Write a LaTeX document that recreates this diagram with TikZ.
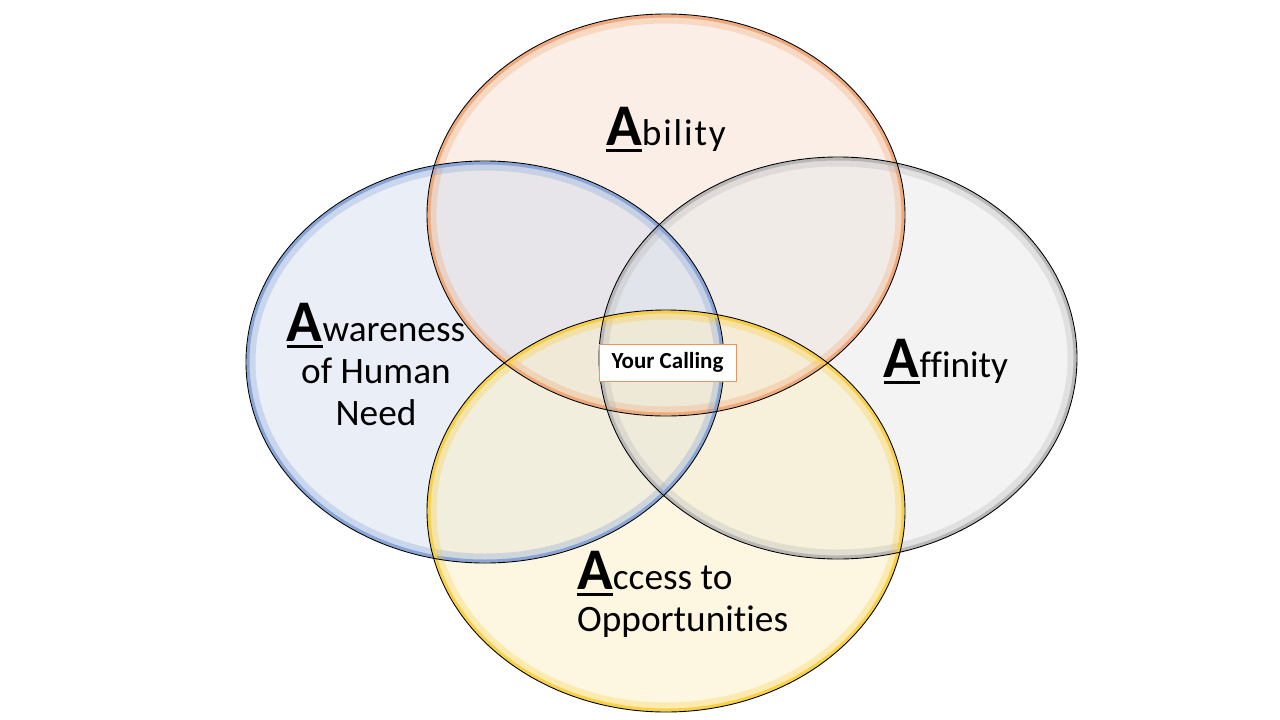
\documentclass[tikz,border=0pt]{standalone}
\usepackage{fontspec}
\setmainfont{Carlito}[Ligatures={NoCommon,NoRequired,NoContextual}]
\usetikzlibrary{shapes.geometric}
\definecolor{orfill}{RGB}{247,221,205}
\definecolor{blfill}{RGB}{211,221,239}
\definecolor{grfill}{RGB}{232,232,232}
\definecolor{yefill}{RGB}{251,238,196}
\definecolor{orglow}{RGB}{240,165,115}
\definecolor{blglow}{RGB}{130,160,215}
\definecolor{grglow}{RGB}{180,180,180}
\definecolor{yeglow}{RGB}{250,205,60}
\definecolor{boxedge}{RGB}{230,150,100}
\newcommand\capA[1]{{\fontsize{59}{59}\selectfont\bfseries\setbox0\hbox{#1}\rlap{\rule[-7pt]{\wd0}{3pt}}\box0}}
\begin{document}
\begin{tikzpicture}[x=1pt,y=-1pt,
  circ/.style={ellipse, inner sep=0pt, outer sep=0pt, minimum width=478pt, minimum height=402pt, fill opacity=0.5},
  rim/.style={draw=black, line width=0.9pt},
  lbl/.style={inner sep=0pt, font=\fontsize{37.3}{42}\selectfont}]
\useasboundingbox (0,0) rectangle (1280,720);
% fills
\node[circ, fill=orfill] (ability) at (666,215) {};
\node[circ, fill=grfill] (affinity) at (838,358) {};
\node[circ, fill=blfill] (awareness) at (485,362) {};
\node[circ, fill=yefill] (access) at (666,511) {};
% inner glows
\foreach \n/\c in {ability/orglow, affinity/grglow, awareness/blglow, access/yeglow}{
  \draw[\c, line width=9pt, opacity=0.3] (\n.center) ellipse [x radius=234pt, y radius=196pt];
  \draw[\c, line width=3pt, opacity=0.9] (\n.center) ellipse [x radius=237pt, y radius=199pt];
}
% outlines
\foreach \n in {ability, affinity, awareness, access}{
  \draw[rim] (\n.center) ellipse [x radius=239pt, y radius=201pt];
}
% labels
\node[lbl, anchor=base] (tability) at (666,145) {\capA{A}{\addfontfeature{LetterSpace=5}bility}};
\node[lbl, anchor=base] (taffinity) at (946,377) {\capA{A}ffinity};
\node[lbl, align=center, anchor=center] (tawareness) at (376,364) {\capA{A}wareness\\of Human\\Need};
\node[lbl, align=left, anchor=west] (taccess) at (577,594) {\capA{A}ccess to\\Opportunities};
\node[draw=boxedge, line width=0.9pt, fill=white, minimum width=137pt, minimum height=37pt, inner sep=0pt,
  font=\fontsize{23}{26}\selectfont\bfseries] (calling) at (667.5,362.5) {Your Calling};
\end{tikzpicture}
\end{document}
